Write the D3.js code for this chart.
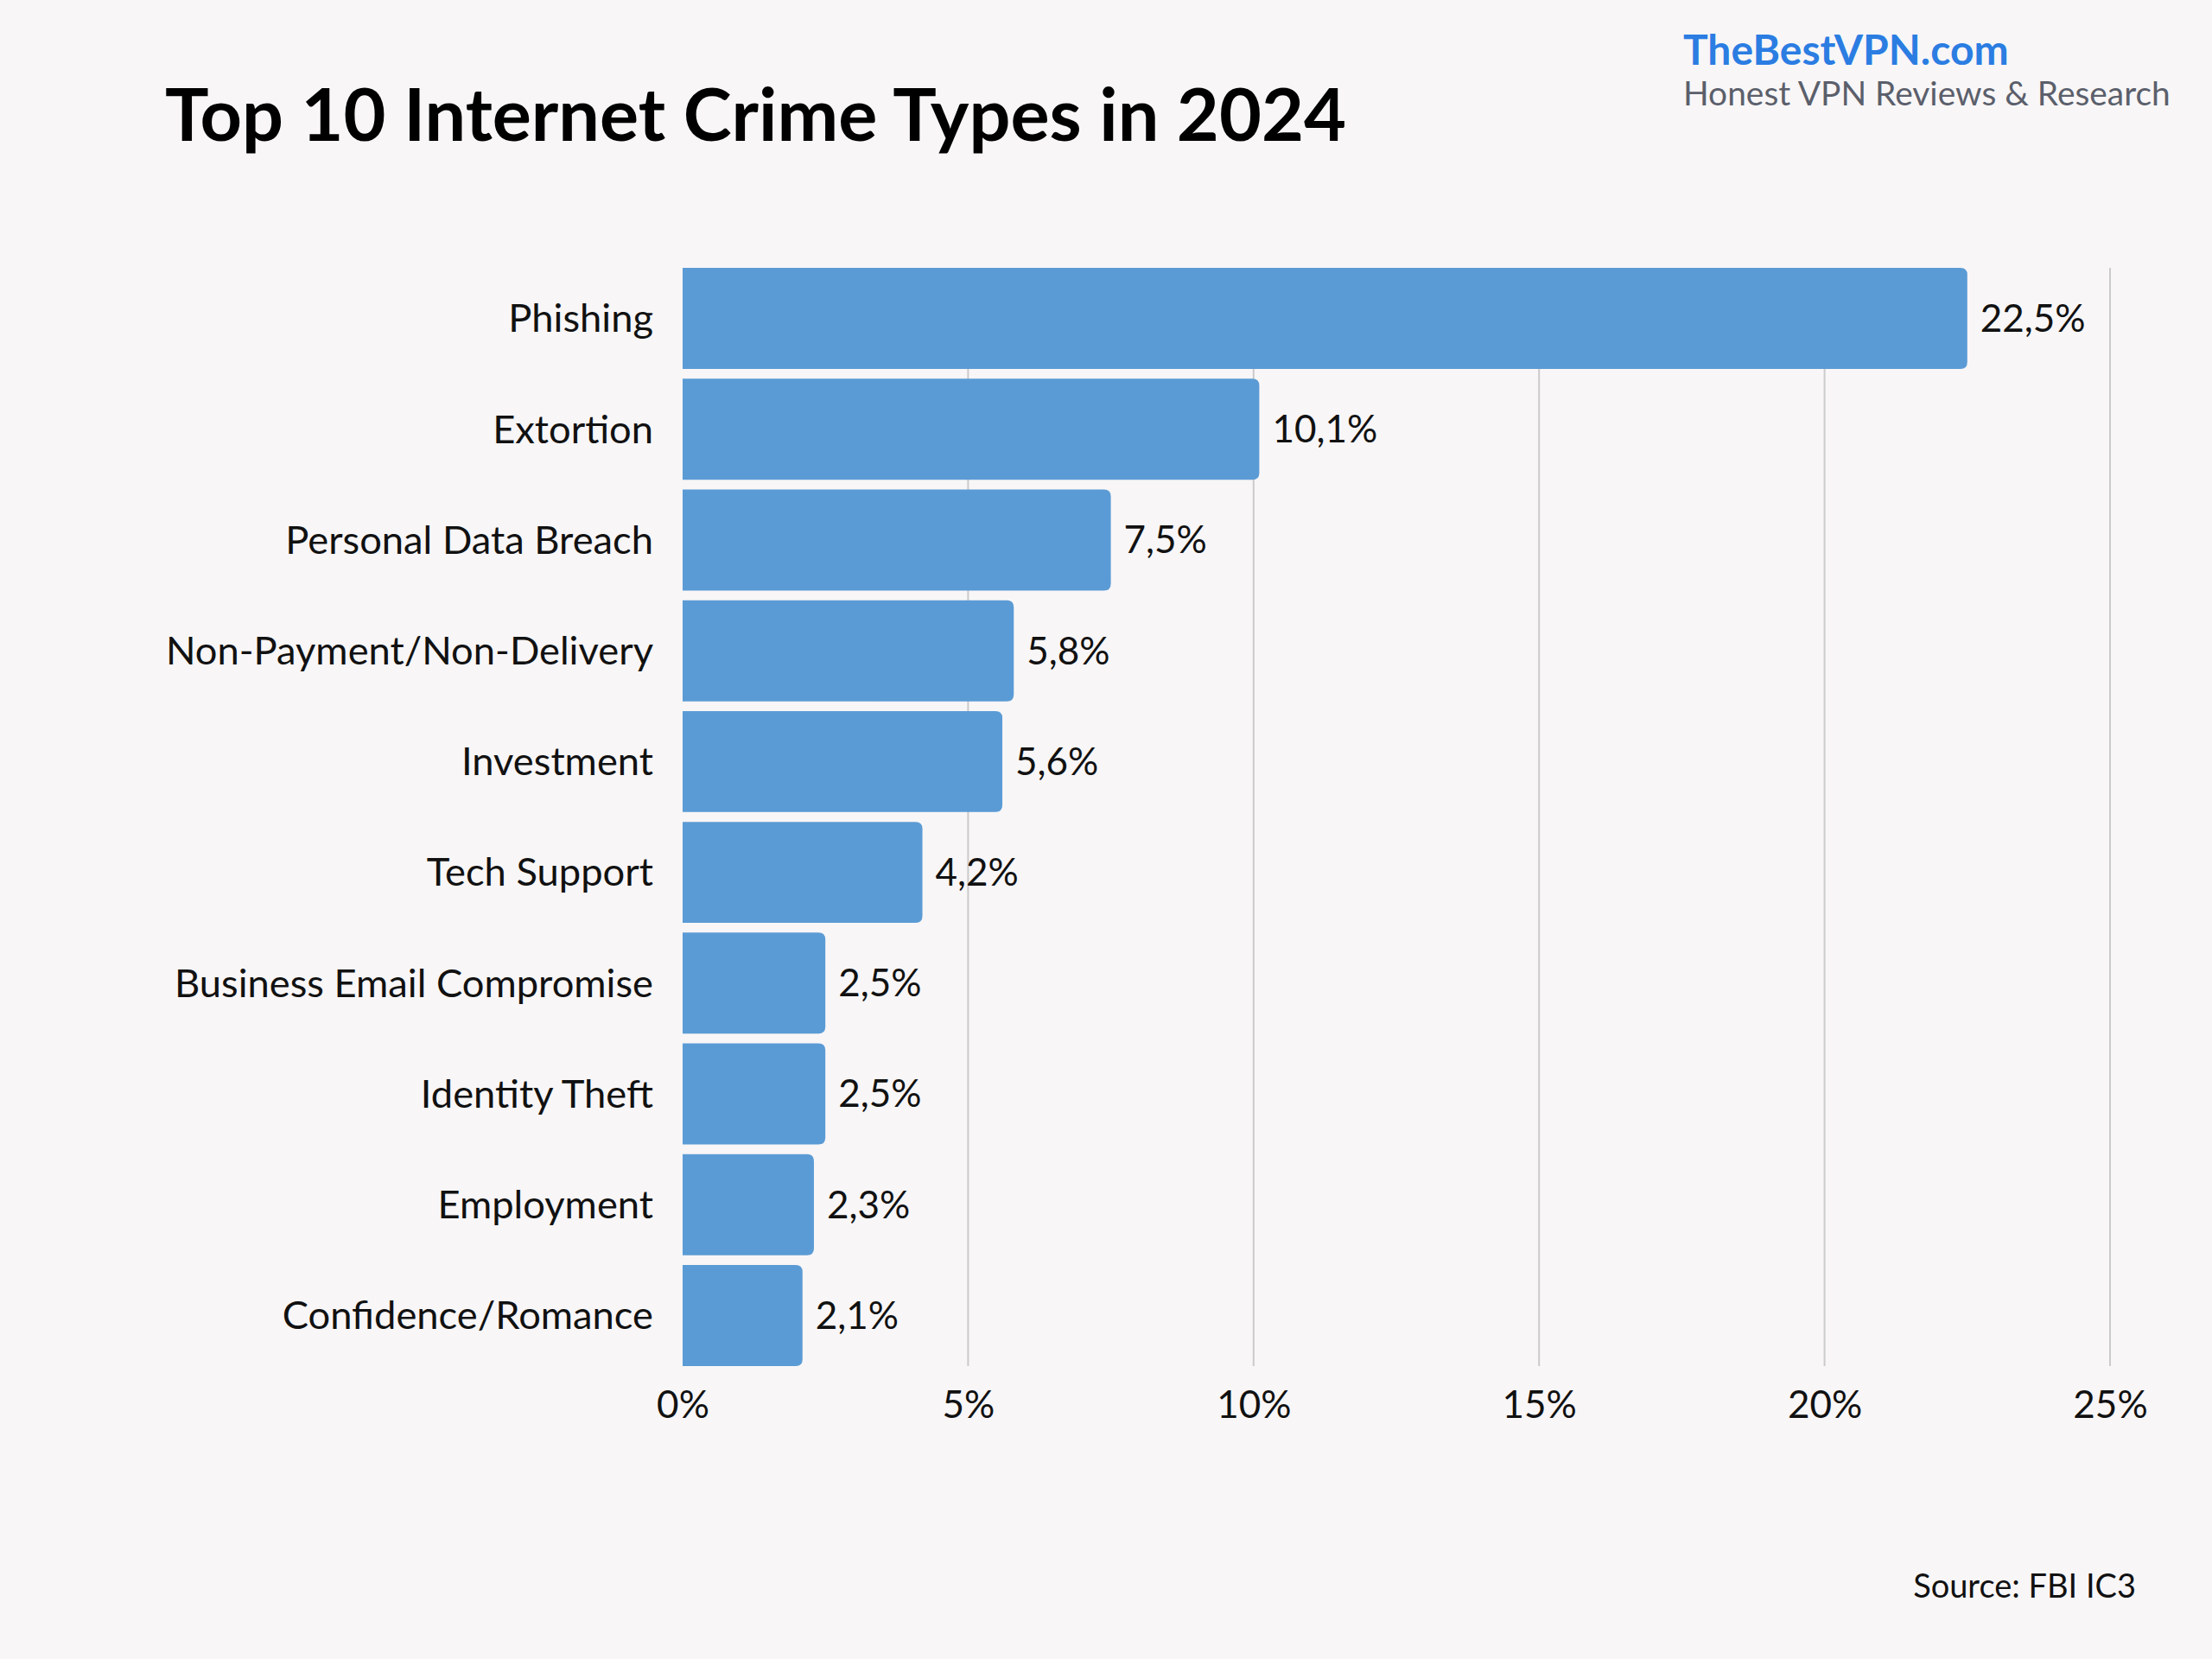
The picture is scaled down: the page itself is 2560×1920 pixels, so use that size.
<!DOCTYPE html>
<html>
<head>
<meta charset="utf-8">
<script src="https://cdn.jsdelivr.net/npm/d3@7/dist/d3.min.js"></script>
<style>
  html, body { margin: 0; padding: 0; background: #f8f6f7; }
  svg { display: block; }
  text { font-family: Lato, "Open Sans", sans-serif; }
</style>
</head>
<body>
<svg id="chart" width="2560" height="1920"></svg>
<script>
const categories = ["Phishing", "Extortion", "Personal Data Breach", "Non-Payment/Non-Delivery",
  "Investment", "Tech Support", "Business Email Compromise", "Identity Theft", "Employment", "Confidence/Romance"];
const shares = [22.5, 10.1, 7.5, 5.8, 5.6, 4.2, 2.5, 2.5, 2.3, 2.1];
const xTicks = [0, 5, 10, 15, 20, 25];
const titleText = "Top 10 Internet Crime Types in 2024";
const brandText = "TheBestVPN.com";
const taglineText = "Honest VPN Reviews & Research";
const sourceText = "Source: FBI IC3";

const W = 2560, H = 1920;
const margin = { left: 790, right: 118, top: 310, bottom: 339 };
const svg = d3.select("#chart");
svg.append("rect").attr("width", W).attr("height", H).attr("fill", "#f8f6f7");

const x = d3.scaleLinear().domain([0, 25]).range([margin.left, W - margin.right]);
const y = d3.scaleBand().domain(categories).range([margin.top, H - margin.bottom]).paddingInner(0.088).paddingOuter(0);

const locale = d3.formatLocale({ decimal: ",", thousands: ".", grouping: [3], currency: ["", "€"] });
const fmt = locale.format(".1f");

// gridlines
svg.append("g").selectAll("line").data(xTicks.slice(1)).join("line")
  .attr("x1", d => x(d)).attr("x2", d => x(d))
  .attr("y1", margin.top).attr("y2", H - margin.bottom)
  .attr("stroke", "#cbcbcb").attr("stroke-width", 2);

// bars with rounded right corners
const r = 8;
svg.append("g").selectAll("path").data(categories).join("path")
  .attr("fill", "#5b9bd5")
  .attr("d", (c, i) => {
    const x0 = x(0), x1 = x(shares[i]), y0 = y(c), h = y.bandwidth();
    return `M${x0},${y0} H${x1 - r} Q${x1},${y0} ${x1},${y0 + r} V${y0 + h - r} Q${x1},${y0 + h} ${x1 - r},${y0 + h} H${x0} Z`;
  });

// category labels
svg.append("g").selectAll("text").data(categories).join("text")
  .attr("x", x(0) - 34).attr("y", c => y(c) + y.bandwidth() / 2)
  .attr("dy", "0.35em").attr("text-anchor", "end")
  .attr("font-size", 45.3).attr("fill", "#111")
  .text(c => c);

// value labels
svg.append("g").selectAll("text").data(categories).join("text")
  .attr("x", (c, i) => x(shares[i]) + 15).attr("y", c => y(c) + y.bandwidth() / 2)
  .attr("dy", "0.35em").attr("text-anchor", "start")
  .attr("font-size", 44).attr("fill", "#111")
  .text((c, i) => fmt(shares[i]) + "%");

// x axis
const xAxis = d3.axisBottom(x).tickValues(xTicks).tickSize(0).tickPadding(0).tickFormat(d => d + "%");
const gx = svg.append("g").attr("transform", `translate(0,${H - margin.bottom})`).call(xAxis);
gx.select(".domain").remove();
gx.selectAll("text").attr("font-size", 44).attr("fill", "#111").attr("dy", null).attr("y", 60)
  .style("font-family", "Lato, 'Open Sans', sans-serif");

// title
svg.append("text").attr("x", 191).attr("y", 163).attr("font-size", 84.5).attr("font-weight", 700)
  .attr("fill", "#000").text(titleText);

// brand
svg.append("text").attr("x", 1948).attr("y", 75).attr("font-size", 48).attr("font-weight", 700)
  .attr("fill", "#2b7de2").text(brandText);
svg.append("text").attr("x", 1948).attr("y", 122).attr("font-size", 38.9)
  .attr("fill", "#5b5f6b").text(taglineText);

// source
svg.append("text").attr("x", 2472).attr("y", 1849).attr("text-anchor", "end").attr("font-size", 38)
  .attr("fill", "#111").text(sourceText);
</script>
</body>
</html>
